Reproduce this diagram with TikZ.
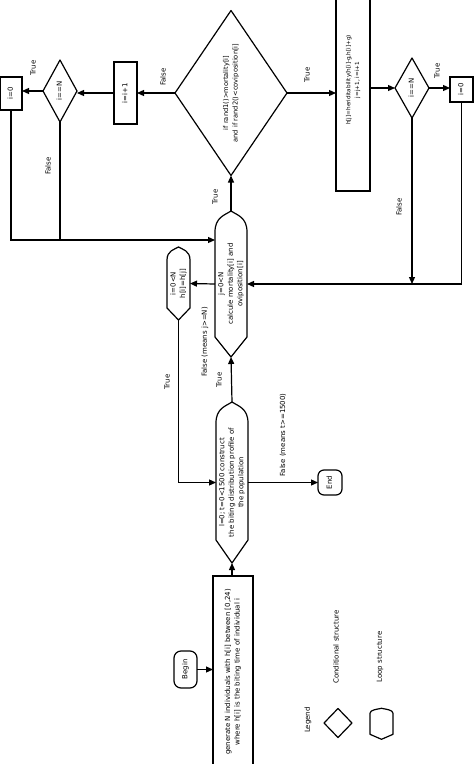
\documentclass[tikz,border=0pt]{standalone}
\usepackage{fontspec}
\setmainfont{DejaVu Sans}
\usetikzlibrary{calc,arrows.meta}
\newcommand\rottext[1]{\rotatebox{90}{\begin{tabular}{@{}c@{}}#1\end{tabular}}}
\newcommand\loopshape[3]{%
  \draw[shp] ($(#1.north west)+(0,#2)$)
    .. controls ($(#1.north west)+(0,0.3*#2)$) and ($(#1.north west)!0.6!(#1.north)+(0,0.2*#2)$) .. (#1.north)
    .. controls ($(#1.north east)!0.6!(#1.north)+(0,0.2*#2)$) and ($(#1.north east)+(0,0.3*#2)$) .. ($(#1.north east)+(0,#2)$)
    -- ($(#1.south east)+(0,-#3)$) -- (#1.south) -- ($(#1.south west)+(0,-#3)$) -- cycle;}
\newcommand\diashape[1]{\draw[shp] (#1.north) -- (#1.east) -- (#1.south) -- (#1.west) -- cycle;}
\tikzset{
  frame/.style={inner sep=0pt, outer sep=0pt, font=\fontsize{7}{9.5}\selectfont},
  box/.style={frame, draw, line width=1.2pt},
  rbox/.style={box, rounded corners=7pt},
  shp/.style={line width=1.2pt, line join=round},
  conn/.style={line width=1.2pt, -{Triangle[length=7pt,width=6pt]}},
  plain/.style={line width=1.2pt},
  lbl/.style={inner sep=0pt, font=\fontsize{7}{9}\selectfont, rotate=90},
}
\begin{document}
\begin{tikzpicture}[x=1pt,y=-1pt]
\useasboundingbox (0,0) rectangle (474,764);
% top row
\node[box, minimum width=22, minimum height=33] (iz1) at (11,93.5) {\rottext{i=0}};
\node[frame, minimum width=34, minimum height=62] (dN1) at (60,91) {\rottext{i==N}};
\diashape{dN1}
\node[box, minimum width=23, minimum height=62] (inc) at (125.5,93) {\rottext{i=i+1}};
\node[frame, minimum width=112, minimum height=165, font=\fontsize{6.7}{9.5}\selectfont] (bigD) at (231,93) {\rottext{if rand1()>mortality[i]\\and if rand2()<coviposition[i]}};
\diashape{bigD}
\node[box, minimum width=34, minimum height=193] (hj) at (353,94.5) {};
\node[frame, font=\fontsize{5.7}{8.8}\selectfont] (hjt) at (353,80) {\rottext{h[j]=heriditability(h[i]-g,h[i]+g)\\j=j+1, i=i+1}};
\node[frame, minimum width=34, minimum height=60] (dN2) at (412,88) {\rottext{i==N}};
\diashape{dN2}
\node[box, minimum width=23, minimum height=25] (iz2) at (461.5,89.5) {\rottext{i=0}};
% loops
\node[frame, minimum width=32, minimum height=146] (jl) at (231,284) {\rottext{j=0<N\\calcule mortality[i] and\\oviposition[i]}};
\loopshape{jl}{21}{20}
\node[frame, minimum width=23, minimum height=73] (il) at (178.5,283.5) {\rottext{i=0<N\\h[i]=h[j]}};
\loopshape{il}{13}{12}
\node[frame, minimum width=32, minimum height=161] (bl) at (232,482.5) {\rottext{l=0; t=0<1500 construct\\the biting distribution profile of\\the population}};
\loopshape{bl}{21}{23}
\node[rbox, minimum width=24, minimum height=25, rounded corners=6pt] (endn) at (330,482.5) {\rottext{End}};
\node[rbox, minimum width=23, minimum height=37] (begin) at (185.5,669.5) {\rottext{Begin}};
\node[box, minimum width=40, minimum height=192] (gen) at (233,672) {\rottext{generate N individuals with h[i] between [0,24)\\where h[i] is the biting time of individual i}};
% legend
\node[lbl] (lg) at (308,720) {Legend};
\node[frame, minimum width=28, minimum height=29] (lgd) at (338,723) {};
\diashape{lgd}
\node[lbl] (lgdt) at (336,647) {Conditional structure};
\node[frame, minimum width=23, minimum height=31] (lgl) at (381.5,723.8) {};
\loopshape{lgl}{5}{5}
\node[lbl] (lglt) at (380,657) {Loop structure};
% connectors
\coordinate (lj) at ($(jl.north west)+(0,29)$);
\draw[conn] (bigD.west) -- (bigD.west -| inc.east);
\draw[conn] (inc.west) -- (inc.west -| dN1.east);
\draw[conn] (dN1.west) -- (dN1.west -| iz1.east);
\draw[conn] (iz1.south) |- (lj);
\draw[plain] (dN1.south) -- (dN1.south |- lj);
\draw[conn] (jl.north) -- (bigD.south);
\draw[conn] (bigD.east) -- (bigD.east -| hj.west);
\draw[conn] (dN2.west -| hj.east) -- (dN2.west);
\draw[conn] (dN2.east) -- (dN2.east -| iz2.west);
\draw[conn] (dN2.south) -- (dN2.south |- jl.east);
\draw[conn] (iz2.south) |- (jl.east);
\draw[conn] (jl.west) -- (il.east);
\draw[conn] (il.south) |- (bl.west);
\draw[conn] (bl.north) -- (jl.south);
\draw[conn] (bl.east) -- (endn.west);
\draw[conn] (begin.east) -- (begin.east -| gen.west);
\draw[conn] (bl.south |- gen.north) -- (bl.south);
% labels
\node[lbl] (t1) at (33,68) {True};
\node[lbl] (f1) at (163,77) {False};
\node[lbl] (f2) at (48,166) {False};
\node[lbl] (t2) at (215,197) {True};
\node[lbl] (t3) at (307,75) {True};
\node[lbl] (t4) at (437,71) {True};
\node[lbl] (f3) at (399,207) {False};
\node[lbl] (f4) at (205,342) {False (means j>=N)};
\node[lbl] (t5) at (167,382) {True};
\node[lbl] (t6) at (219,380) {True};
\node[lbl] (f5) at (283,435) {False (means t>=1500)};
\end{tikzpicture}
\end{document}
